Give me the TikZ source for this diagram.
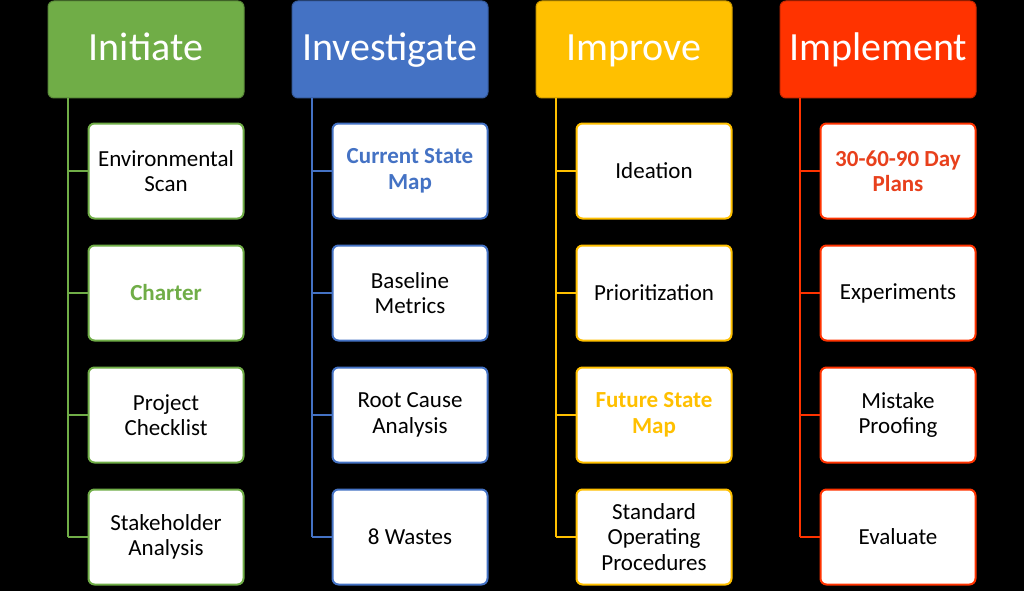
\documentclass[tikz,border=0pt]{standalone}
\usepackage{fontspec}
\setmainfont{Carlito}
\definecolor{cgreen}{HTML}{70AD47}
\definecolor{cblue}{HTML}{4472C4}
\definecolor{cgold}{HTML}{FFC000}
\definecolor{cred}{HTML}{FF3300}
\definecolor{credtext}{HTML}{E8401C}
\begin{document}
\begin{tikzpicture}[x=1pt,y=-1pt,
  header/.style={draw=#1!80!black, line width=1pt, fill=#1, rounded corners=6pt, minimum width=196pt, minimum height=97pt, inner sep=0pt, text height=32pt, text depth=9pt, text=white, font=\fontsize{40}{46}\selectfont},
  item/.style={draw=#1, line width=2pt, fill=white, rounded corners=6pt, minimum width=155pt, minimum height=95pt, inner sep=0pt, align=center, font=\fontsize{23}{25.5}\selectfont},
  conn/.style={draw=#1, line width=1.3pt}]
\fill[black] (0,0) rectangle (1024,591);
\useasboundingbox (0,0) rectangle (1024,591);
\foreach \i/\col/\title/\ta/\tb/\tc/\td in {
  0/cgreen/Initiate/{Environmental\\Scan}/{\textcolor{cgreen}{\textbf{Charter}}}/{Project\\Checklist}/{Stakeholder\\Analysis},
  1/cblue/Investigate/{\textcolor{cblue}{\textbf{Current State}}\\\textcolor{cblue}{\textbf{Map}}}/{Baseline\\Metrics}/{Root Cause\\Analysis}/{8 Wastes},
  2/cgold/Improve/{Ideation}/{Prioritization}/{\textcolor{cgold}{\textbf{Future State}}\\\textcolor{cgold}{\textbf{Map}}}/{Standard\\Operating\\Procedures},
  3/cred/Implement/{\textcolor{credtext}{\textbf{30-60-90 Day}}\\\textcolor{credtext}{\textbf{Plans}}}/{Experiments}/{Mistake\\Proofing}/{Evaluate}}
{
  \pgfmathsetmacro{\xo}{244*\i}
  \node[header=\col] (h\i) at (\xo+146,49.5) {\title};
  \node[item=\col] (a\i) at (\xo+166,171) {\ta};
  \node[item=\col] (b\i) at (\xo+166,293) {\tb};
  \node[item=\col] (c\i) at (\xo+166,415) {\tc};
  \node[item=\col] (d\i) at (\xo+166,537) {\td};
  \coordinate (t\i) at (\xo+68,98);
  \coordinate (e\i) at (\xo+68,537);
  \draw[conn=\col] (t\i) -- (e\i);
  \foreach \n in {a,b,c,d}{
    \draw[conn=\col] (\n\i.west -| t\i) -- (\n\i.west);
  }
}
\end{tikzpicture}
\end{document}
